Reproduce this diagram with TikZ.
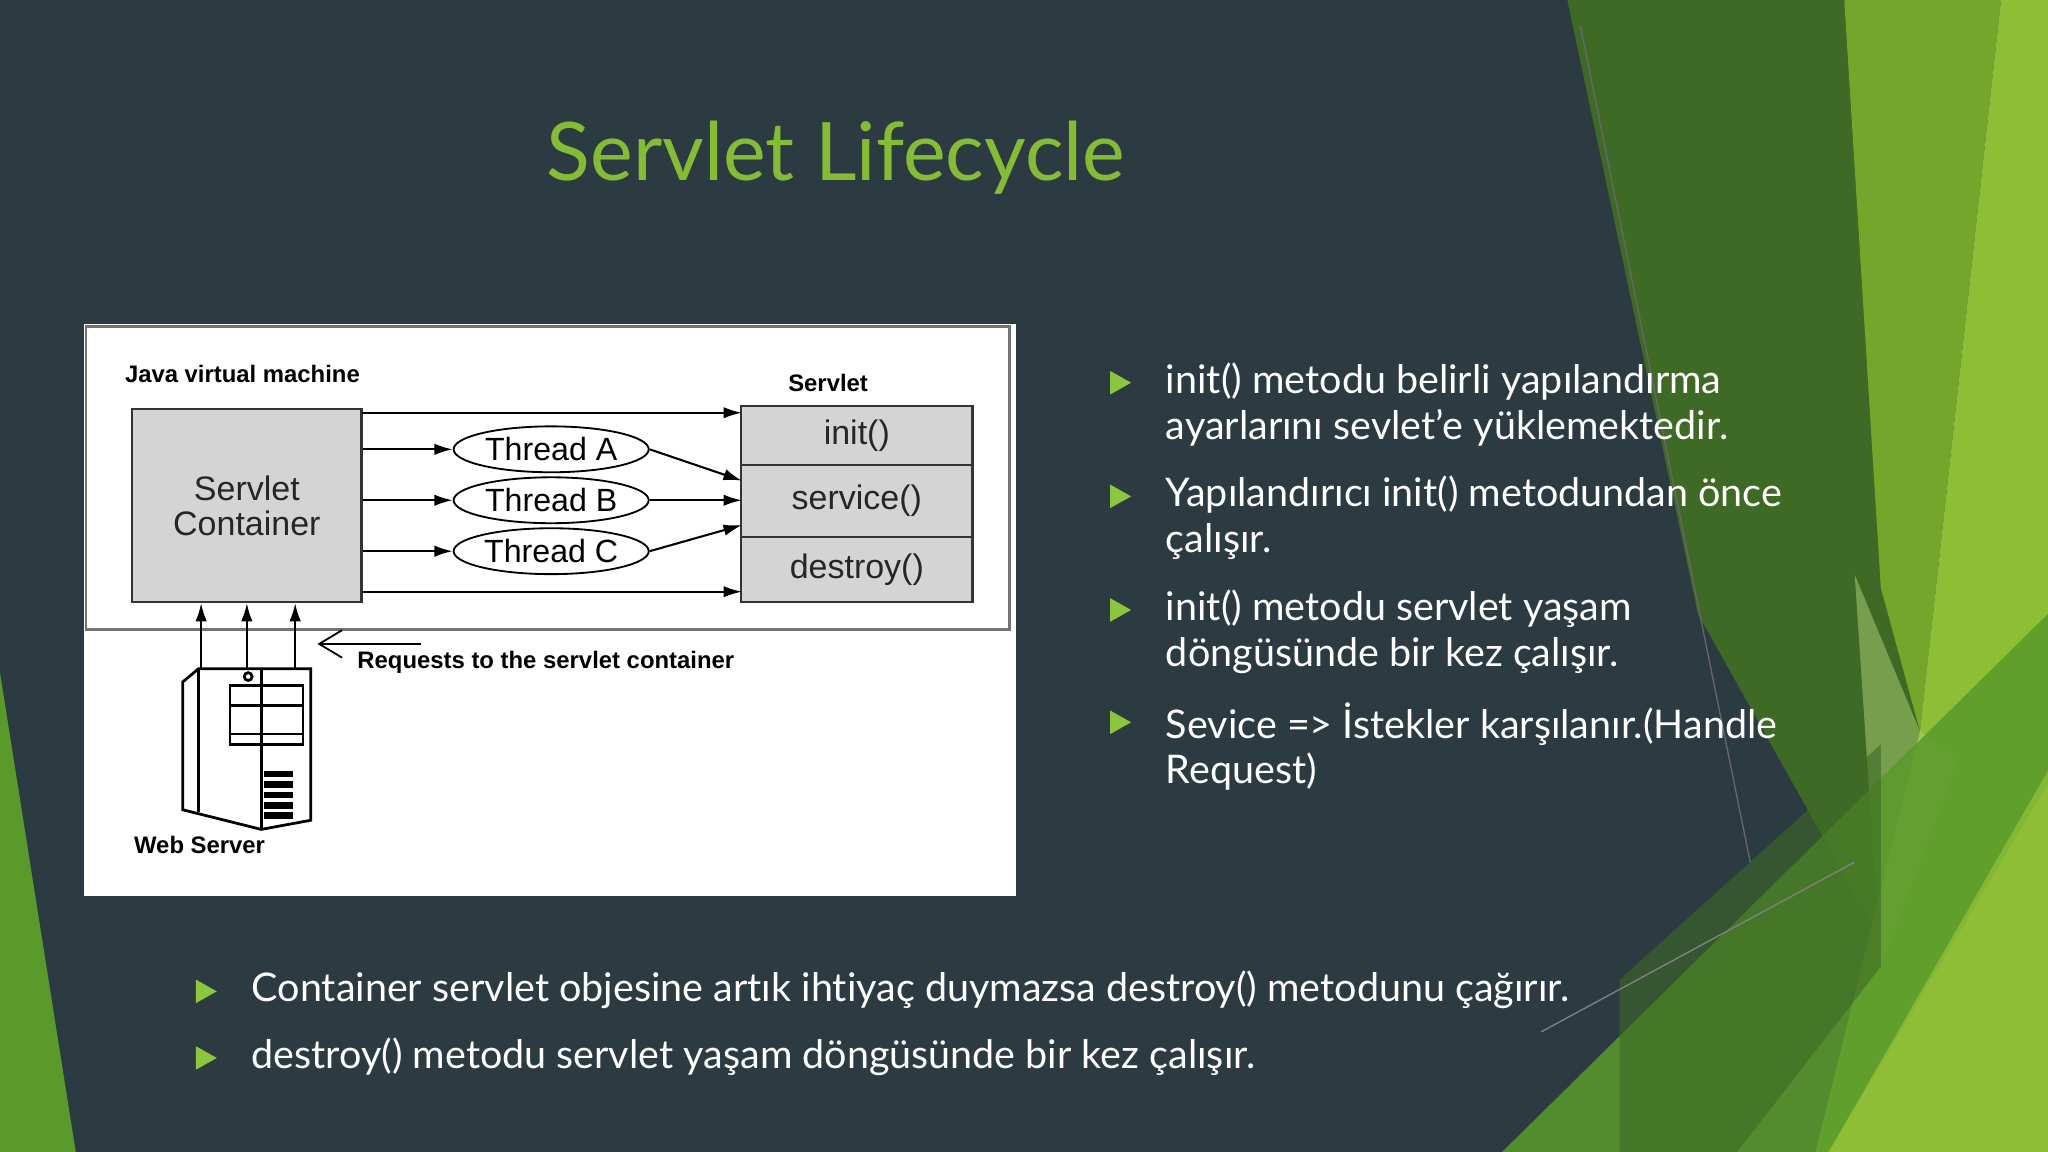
\documentclass[tikz,border=0pt]{standalone}
\usepackage{fontspec}
\setmainfont{Lato}[Ligatures=NoCommon]
\newfontfamily\diagfont{Liberation Sans}[Ligatures=NoCommon]
\usetikzlibrary{arrows.meta,shapes.geometric}
\definecolor{bg}{HTML}{2C3A42}
\definecolor{ttl}{HTML}{84BD35}
\definecolor{bul}{HTML}{8CC63F}
\definecolor{gA}{HTML}{3E6A26}
\definecolor{gB}{HTML}{74A62B}
\definecolor{gC}{HTML}{8DBE36}
\definecolor{gD}{HTML}{5A9A2B}
\definecolor{boxg}{HTML}{D4D4D4}
\tikzset{
  body/.style={text=white,font=\fontsize{8.6}{10}\selectfont,anchor=north west,align=left,inner sep=0},
  dbox/.style={draw=black!80,line width=0.5pt,fill=boxg},
  thr/.style={draw=black,ellipse,line width=0.4pt,fill=white,minimum width=42.5pt,minimum height=10pt,inner sep=0,font=\diagfont\fontsize{7}{7}\selectfont},
  dtext/.style={font=\diagfont\fontsize{7.4}{7.6}\selectfont,text=black!85,align=center,inner sep=0},
  blab/.style={font=\diagfont\bfseries\fontsize{5.2}{6}\selectfont,text=black,inner sep=0},
  arr/.style={-{Latex[length=4pt,width=2.5pt]},line width=0.45pt,black},
}
\begin{document}
\begin{tikzpicture}[x=0.1mm,y=-0.1mm]
\useasboundingbox (0,0) rectangle (1568,882);
\fill[bg] (0,0) rectangle (1568,882);
% green background shapes
\fill[gA] (1200,0) -- (1412,0) -- (1490,560) -- (1440,720) -- (1300,470) -- cycle;
\fill[gB] (1412,0) -- (1532,0) -- (1470,560) -- (1440,450) -- cycle;
\fill[gC] (1532,0) -- (1568,0) -- (1568,882) -- (1390,882) -- (1470,560) -- cycle;
\fill[gC!70!white,opacity=0.5] (1420,440) -- (1470,560) -- (1500,580) -- (1440,740) -- cycle;
\fill[gD,opacity=0.85] (1150,882) -- (1568,470) -- (1568,600) -- (1400,882) -- cycle;
\fill[gA,opacity=0.6] (1240,750) -- (1440,570) -- (1440,740) -- (1330,882) -- (1240,882) -- cycle;
\fill[gC,opacity=0.8] (1400,882) -- (1568,590) -- (1568,882) -- cycle;
\fill[gD] (0,515) -- (58,882) -- (0,882) -- cycle;
\draw[black!60,line width=0.3pt] (1210,20) -- (1340,660);
\draw[black!50,line width=0.3pt] (1180,790) -- (1420,660);
% title
\node[text=ttl,font=\fontsize{17.6}{20}\selectfont,inner sep=0] (title) at (640,121) {Servlet Lifecycle};
% diagram
\fill[white] (64,248) rectangle (778,686);
\draw[black!55,line width=0.5pt] (66,250) rectangle (773,482);
\node[blab,anchor=west] (jvm) at (95,286) {Java virtual machine};
\node[blab] (sv) at (634,293) {Servlet};
\node[dbox,minimum width=50pt,minimum height=42pt,inner sep=0] (cont) at (189,387) {};
\node[dtext] at (cont) {Servlet\\Container};
\node[dbox,minimum width=50.4pt,minimum height=12.8pt,inner sep=0] (init) at (656,333.5) {};
\node[dtext] at (init) {init()};
\node[dbox,minimum width=50.4pt,minimum height=15.6pt,inner sep=0] (serv) at (656,383.5) {};
\node[dtext] at (serv) {service()};
\node[dbox,minimum width=50.4pt,minimum height=14.2pt,inner sep=0] (dest) at (656,436) {};
\node[dtext] at (dest) {destroy()};
\node[thr] (ta) at (422,344) {Thread A};
\node[thr] (tb) at (422,383) {Thread B};
\node[thr] (tc) at (422,422) {Thread C};
\coordinate (c1) at (277,316); \coordinate (s1) at (568,316);
\coordinate (c2) at (277,453); \coordinate (s2) at (568,453);
\draw[arr] (c1) -- (s1);
\draw[arr] (c2) -- (s2);
\draw[arr] (cont.east |- ta) -- (ta.west);
\draw[arr] (cont.east |- tb) -- (tb.west);
\draw[arr] (cont.east |- tc) -- (tc.west);
\draw[arr] (ta.east) -- (568,368);
\draw[arr] (tb.east) -- (568,383);
\draw[arr] (tc.east) -- (568,402);
% server icon
\begin{scope}[line width=0.6pt,black]
\draw[fill=white] (140,522) -- (152,512) -- (238,512) -- (238,628) -- (200,635) -- (140,620) -- cycle;
\draw (152,512) -- (152,622);
\draw (200,512) -- (200,635);
\draw (176,525) rectangle (232,570);
\draw (176,540) -- (232,540); \draw (176,562) -- (232,562);
\foreach \yy in {590,598,606,614,622} \fill (202,\yy) rectangle (224,\yy+5);
\draw (190,518) circle (3);
\end{scope}
\coordinate (w1) at (154,512); \coordinate (w2) at (189,512); \coordinate (w3) at (226,512);
\draw[arr] (w1) -- (cont.south -| w1);
\draw[arr] (w2) -- (cont.south -| w2);
\draw[arr] (w3) -- (cont.south -| w3);
\coordinate (rq1) at (322,493); \coordinate (rq2) at (243,493);
\draw[-{Straight Barb[length=5pt,width=6pt]},line width=0.4pt] (rq1) -- (rq2);
\node[blab,anchor=west] (req) at (273,507) {Requests to the servlet container};
\node[blab,anchor=west] (web) at (102,647) {Web Server};
% bullets
\foreach \yy in {293,380,467,553} \fill[bul] (850,\yy-9) -- (866,\yy) -- (850,\yy+9) -- cycle;
\foreach \yy in {759,810} \fill[bul] (150,\yy-9) -- (166,\yy) -- (150,\yy+9) -- cycle;
\node[body] (b1) at (892,277) {init() metodu belirli yapılandırma\\ayarlarını sevlet’e yüklemektedir.};
\node[body] (b2) at (892,364) {Yapılandırıcı init() metodundan önce\\çalışır.};
\node[body] (b3) at (892,451) {init() metodu servlet yaşam\\döngüsünde bir kez çalışır.};
\node[body] (b4) at (892,537) {Sevice => İstekler karşılanır.(Handle\\Request)};
\node[body] (b5) at (192,743) {Container servlet objesine artık ihtiyaç duymazsa destroy() metodunu çağırır.};
\node[body] (b6) at (192,794) {destroy() metodu servlet yaşam döngüsünde bir kez çalışır.};
\end{tikzpicture}
\end{document}
